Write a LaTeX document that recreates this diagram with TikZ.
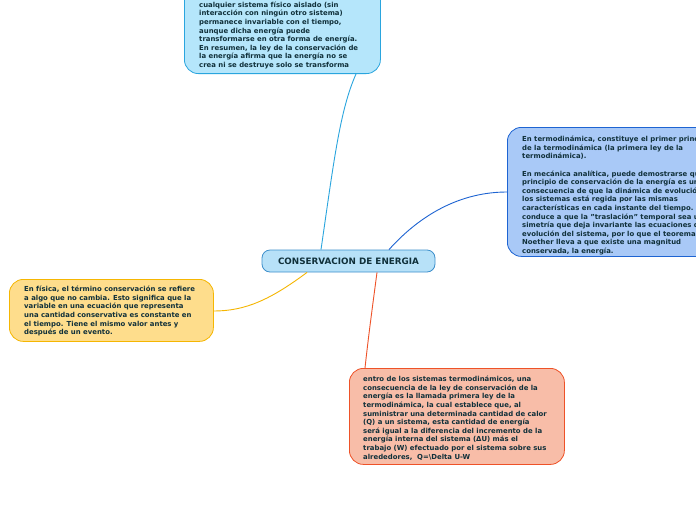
\documentclass[tikz,border=0pt]{standalone}
\usepackage{fontspec}
\setmainfont{DejaVu Sans}
\begin{document}
\begin{tikzpicture}[x=1pt,y=1pt,
  box/.style={rounded corners=14pt, line width=0.8pt, anchor=north west, inner sep=0pt},
  txtn/.style={align=left, anchor=north west, inner sep=0pt, font=\fontsize{6.9}{8.6}\selectfont\bfseries, text=txt},
  lnk/.style={line width=0.9pt}]
\definecolor{txt}{HTML}{10303A}
\definecolor{topf}{HTML}{B5E6FB}\definecolor{topd}{HTML}{2AA5DE}
\definecolor{rf}{HTML}{A9C9F7}\definecolor{rd}{HTML}{1E64D2}
\definecolor{bf}{HTML}{F8BDA8}\definecolor{bd}{HTML}{EE5228}
\definecolor{lf}{HTML}{FEDD8C}\definecolor{ld}{HTML}{F5B602}
\definecolor{cf}{HTML}{B7E1F8}\definecolor{cd}{HTML}{3D8FCB}
\useasboundingbox (0,0) rectangle (696,-520);
\clip (0,0) rectangle (696,-520);
\fill[white] (0,0) rectangle (696,-520);
% boxes
\node[box, fill=topf, draw=topd, minimum width=196pt, minimum height=110pt, anchor=south west] (top) at (184,-74) {};
\node[box, fill=rf, draw=rd, minimum width=230pt, minimum height=129pt] (right) at (507,-127) {};
\node[box, fill=bf, draw=bd, minimum width=215pt, minimum height=96pt] (bot) at (349,-368) {};
\node[box, fill=lf, draw=ld, minimum width=204pt, minimum height=62pt] (left) at (9,-279) {};
\node[rounded corners=8pt, line width=0.8pt, fill=cf, draw=cd, minimum width=173pt, minimum height=22pt,
  inner sep=0pt, font=\fontsize{8.8}{10}\selectfont\bfseries, text=txt] (center) at (348.5,-261) {CONSERVACION DE ENERGIA};
% connectors
\draw[lnk,topd] (center.north -| 321,0) .. controls (334,-160) and (340,-110) .. (top.south -| 356,0);
\draw[lnk,rd] (center.north -| 389,0) .. controls (420,-215) and (460,-192) .. (right.west |- 0,-192);
\draw[lnk,ld] (center.south -| 307,0) .. controls (270,-300) and (245,-311) .. (left.east |- 0,-311);
\draw[lnk,bd] (center.south -| 377,0) .. controls (372,-310) and (368,-340) .. (bot.north -| 365,0);
% texts
\node[txtn] (topt) at (199,-1.5) {cualquier sistema físico aislado (sin\\interacción con ningún otro sistema)\\permanece invariable con el tiempo,\\aunque dicha energía puede\\transformarse en otra forma de energía.\\En resumen, la ley de la conservación de\\la energía afirma que la energía no se\\crea ni se destruye solo se transforma};
\node[txtn] (rightt) at (522,-136) {En termodinámica, constituye el primer principio\\de la termodinámica (la primera ley de la\\termodinámica).\\[8.6pt]En mecánica analítica, puede demostrarse que el\\principio de conservación de la energía es una\\consecuencia de que la dinámica de evolución de\\los sistemas está regida por las mismas\\características en cada instante del tiempo. Eso\\conduce a que la "traslación" temporal sea una\\simetría que deja invariante las ecuaciones de\\evolución del sistema, por lo que el teorema de\\Noether lleva a que existe una magnitud\\conservada, la energía.};
\node[txtn] (bott) at (363,-376) {entro de los sistemas termodinámicos, una\\consecuencia de la ley de conservación de la\\energía es la llamada primera ley de la\\termodinámica, la cual establece que, al\\suministrar una determinada cantidad de calor\\(Q) a un sistema, esta cantidad de energía\\será igual a la diferencia del incremento de la\\energía interna del sistema (ΔU) más el\\trabajo (W) efectuado por el sistema sobre sus\\alrededores,\ \ Q=\textbackslash Delta U-W};
\node[txtn] (leftt) at (24,-286) {En física, el término conservación se refiere\\a algo que no cambia. Esto significa que la\\variable en una ecuación que representa\\una cantidad conservativa es constante en\\el tiempo. Tiene el mismo valor antes y\\después de un evento.};
\end{tikzpicture}
\end{document}
